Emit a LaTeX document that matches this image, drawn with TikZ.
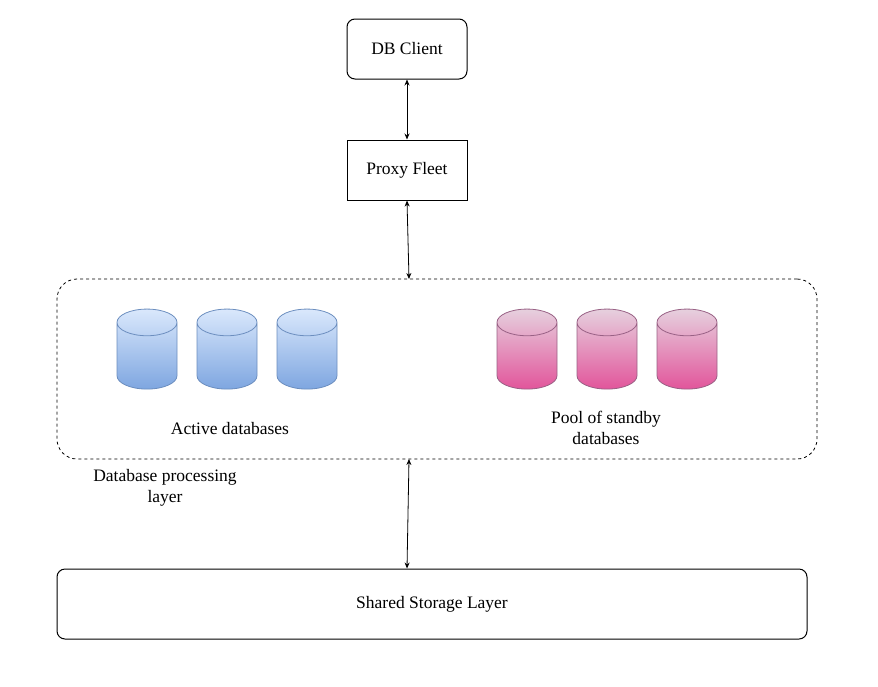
\documentclass[tikz,border=0pt]{standalone}
\usepackage{fontspec}
\setmainfont{Liberation Serif}
\usetikzlibrary{shapes.geometric,
                arrows.meta,
                positioning}
\definecolor{bluefill}{HTML}{DAE8FC}
\definecolor{bluegrad}{HTML}{7EA6E0}
\definecolor{bluedraw}{HTML}{6C8EBF}
\definecolor{pinkfill}{HTML}{E6D0DE}
\definecolor{pinkgrad}{HTML}{E2559B}
\definecolor{pinkdraw}{HTML}{996185}
\tikzset{box/.style=
   {rectangle,
    draw,
    line width=1pt,
    text centered,
    minimum width=120pt,
    minimum height=60pt}}
\tikzset{db/.style =
   {cylinder,
    shape border rotate=90,
    draw,
    line width=0.8pt,
    aspect=4,
    minimum width=60pt,
    minimum height=80pt}}
\tikzset{activedb/.style = {db, draw=bluedraw, top color=bluefill, bottom color=bluegrad}}
\tikzset{standbydb/.style = {db, draw=pinkdraw, top color=pinkfill, bottom color=pinkgrad}}
\tikzset{arrow/.style = {draw, line width=0.8pt, {Stealth[length=6pt,width=5pt]}-{Stealth[length=6pt,width=5pt]}}}

\begin{document}
\begin{tikzpicture}[x=1pt, y=-1pt, font=\fontsize{17.5}{21}\selectfont]
    \useasboundingbox (0,0) rectangle (878,686);

    \node [box, rounded corners=8pt] (client) at (407,49) {DB Client};
    \node [box, below = 60pt of client] (proxy) {Proxy Fleet};

    \node [draw, dashed, line width=0.8pt, rounded corners=20pt,
           minimum width=760pt, minimum height=180pt] (layer) at (437,369) {};
    \node [box, rounded corners=8pt,
           minimum width=750pt, minimum height=70pt] (storage) at (432,604)
    {Shared Storage Layer};

    \foreach \x [count=\i] in {147,227,307}
        \node [activedb] (active\i) at (\x,359) {};
    \foreach \x [count=\i] in {527,607,687}
        \node [standbydb] (standby\i) at (\x,359) {};

    \node (activelabel) at (230,429) {Active databases};
    \node [align=center] (standbylabel) at (606,428) {Pool of standby\\databases};
    \node [align=center] (layerlabel) at (165,488) {Database processing\\layer};

    \coordinate (layertop) at (409,279);
    \coordinate (layerbot) at (409,459);
    \path [arrow] (client) -- (proxy);
    \path [arrow] (proxy.south) -- (layertop);
    \path [arrow] (layerbot) -- (storage.north -| 407,0);

\end{tikzpicture}
\end{document}
